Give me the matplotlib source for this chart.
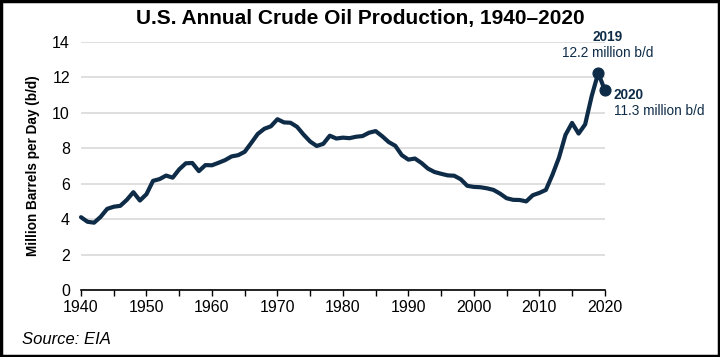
import matplotlib.pyplot as plt
import matplotlib.patches as patches
import numpy as np

plt.rcParams['font.family'] = ['Liberation Sans', 'DejaVu Sans']

years = list(range(1940, 2021))
production = [
    4.11, 3.85, 3.80, 4.13, 4.58, 4.70, 4.75, 5.09, 5.52, 5.05,
    5.41, 6.16, 6.26, 6.46, 6.34, 6.81, 7.15, 7.17, 6.71, 7.05,
    7.04, 7.18, 7.33, 7.54, 7.61, 7.80, 8.30, 8.81, 9.10, 9.24,
    9.64, 9.46, 9.44, 9.21, 8.77, 8.38, 8.13, 8.25, 8.71, 8.55,
    8.60, 8.57, 8.65, 8.69, 8.88, 8.97, 8.68, 8.35, 8.14, 7.61,
    7.36, 7.42, 7.17, 6.85, 6.66, 6.56, 6.47, 6.45, 6.25, 5.88,
    5.82, 5.80, 5.74, 5.65, 5.44, 5.18, 5.09, 5.08, 5.00, 5.35,
    5.48, 5.65, 6.50, 7.47, 8.76, 9.43, 8.83, 9.35, 10.95, 12.25,
    11.28,
]
yticks = list(range(0, 15, 2))
xticks = list(range(1940, 2021, 10))

navy = '#0e2c48'

fig = plt.figure(figsize=(7.2, 3.57), dpi=100)
ax = fig.add_axes([0.1125, 0.1877, 0.7275, 0.6947])

ax.plot(years, production, color=navy, lw=3, solid_joinstyle='round',
        solid_capstyle='round', zorder=3, clip_on=False)
ax.scatter(years[-2:], production[-2:], s=60, color=navy, zorder=4, clip_on=False)

ax.set_xlim(1940, 2020)
ax.set_ylim(0, 14)
ax.set_yticks(yticks)
ax.set_xticks(xticks)
ax.set_xticks(range(1940, 2021, 5), minor=True)
ax.yaxis.grid(True, color='#d9d9d9', lw=1.2, zorder=0)
ax.set_axisbelow(True)

for side in ['left', 'right', 'top']:
    ax.spines[side].set_visible(False)
ax.spines['bottom'].set_color('black')
ax.spines['bottom'].set_linewidth(1.2)
ax.tick_params(axis='y', length=0, labelsize=11.5, pad=8)
ax.tick_params(axis='x', which='both', length=4, width=1, labelsize=11.5, direction='out')

ax.set_ylabel('Million Barrels per Day (b/d)', fontsize=9.8, fontweight='bold', labelpad=9)

fig.text(0.50, 0.948, 'U.S. Annual Crude Oil Production, 1940\u20132020',
         ha='center', va='center', fontsize=15, fontweight='bold')

ax.annotate('2019', xy=(2019, production[-2]), xytext=(7, 26), textcoords='offset points',
            ha='center', va='center', fontsize=9.8, fontweight='bold', color=navy)
ax.annotate('12.2 million b/d', xy=(2019, production[-2]), xytext=(7, 14.5), textcoords='offset points',
            ha='center', va='center', fontsize=9.8, color=navy)
ax.annotate('2020', xy=(2020, production[-1]), xytext=(6.5, -3.6), textcoords='offset points',
            ha='left', va='center', fontsize=9.8, fontweight='bold', color=navy)
ax.annotate('11.3 million b/d', xy=(2020, production[-1]), xytext=(6.5, -15), textcoords='offset points',
            ha='left', va='center', fontsize=9.8, color=navy)

fig.text(0.03, 0.048, 'Source: EIA', ha='left', va='center', fontsize=12, style='italic')

fig.patches.append(patches.Rectangle((0.002, 0.003), 0.996, 0.994, transform=fig.transFigure,
                                     fill=False, edgecolor='black', lw=2.5))

fig.savefig('out.png', dpi=100)
